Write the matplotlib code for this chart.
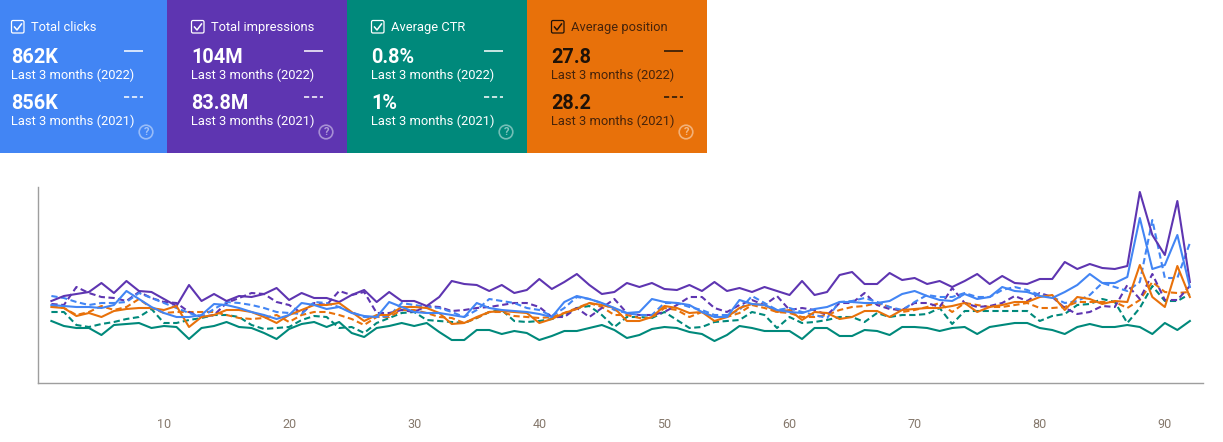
import numpy as np
import matplotlib
matplotlib.use('Agg')
import matplotlib.pyplot as plt
from matplotlib.patches import Rectangle, FancyBboxPatch, Circle

plt.rcParams['font.family'] = ['Roboto', 'DejaVu Sans']

# ---------- DATA ----------
days = list(range(1, 93))
tick_days = [10, 20, 30, 40, 50, 60, 70, 80, 90]

impressions_2022 = [82, 87, 89, 91, 100, 90, 102, 92, 91, 84, 77, 98, 82, 89, 82, 87, 86, 89, 95, 83, 90, 85, 85,
                    81, 88, 93, 81, 91, 82, 82, 77, 86, 102, 99, 98, 92, 98, 90, 93, 104, 94, 101, 109, 98, 89, 91,
                    100, 96, 100, 94, 93, 98, 92, 101, 92, 95, 91, 96, 92, 88, 102, 88, 91, 108, 111, 99, 99, 110, 103,
                    105, 99, 102, 96, 102, 109, 99, 107, 100, 99, 104, 104, 121, 114, 119, 115, 114, 117, 191, 148, 128, 182, 101]
impressions_2021 = [79, 78, 96, 90, 86, 85, 82, 91, 85, 81, 80, 71, 66, 68, 80, 85, 90, 89, 81, 78, 70, 80, 78,
                    92, 88, 91, 70, 70, 73, 71, 77, 76, 72, 73, 75, 76, 78, 80, 80, 76, 66, 66, 75, 66, 75, 84,
                    70, 68, 68, 71, 78, 86, 86, 75, 71, 78, 83, 78, 87, 73, 75, 73, 68, 80, 80, 90, 78, 74, 73,
                    80, 80, 76, 95, 80, 76, 77, 80, 87, 82, 90, 86, 75, 69, 71, 77, 76, 98, 84, 109, 83, 83, 97]
clicks_2022 = [78, 77, 76, 76, 75, 78, 92, 84, 76, 70, 66, 66, 68, 79, 78, 75, 71, 68, 64, 68, 80, 78, 74,
               76, 70, 67, 66, 81, 76, 71, 70, 70, 68, 66, 80, 75, 73, 72, 71, 69, 66, 81, 87, 84, 80, 75,
               70, 71, 84, 81, 80, 78, 71, 66, 66, 83, 79, 78, 73, 71, 70, 74, 76, 81, 81, 80, 80, 82, 89,
               92, 87, 83, 82, 89, 84, 86, 96, 92, 91, 87, 85, 91, 98, 109, 100, 100, 106, 165, 114, 118, 148, 96]
clicks_2021 = [87, 85, 81, 78, 80, 80, 81, 90, 85, 80, 75, 70, 66, 74, 81, 80, 78, 75, 71, 70, 69, 81, 80,
               76, 71, 66, 66, 67, 80, 78, 76, 75, 71, 66, 73, 84, 82, 80, 75, 73, 67, 75, 86, 84, 80, 73,
               70, 68, 68, 80, 80, 76, 73, 68, 68, 73, 87, 80, 73, 75, 71, 68, 65, 81, 82, 85, 81, 76, 73,
               81, 88, 86, 86, 90, 86, 86, 93, 96, 93, 88, 86, 80, 82, 88, 100, 96, 92, 101, 163, 105, 105, 140]
position_2022 = [76, 75, 67, 70, 66, 72, 74, 75, 75, 73, 77, 56, 66, 68, 73, 73, 71, 66, 60, 68, 73, 78, 78,
                 80, 71, 62, 68, 68, 76, 76, 75, 70, 59, 60, 66, 71, 72, 71, 70, 60, 64, 70, 74, 80, 78, 75,
                 62, 62, 66, 77, 75, 70, 71, 62, 66, 75, 79, 78, 71, 73, 63, 71, 70, 64, 66, 72, 72, 66, 73,
                 74, 75, 75, 77, 80, 71, 76, 78, 81, 81, 86, 88, 73, 86, 84, 79, 82, 81, 118, 86, 76, 117, 86]
position_2021 = [77, 75, 68, 71, 77, 73, 76, 84, 75, 70, 71, 71, 71, 71, 68, 65, 64, 65, 68, 61, 68, 71, 71,
                 68, 64, 58, 66, 66, 73, 73, 70, 66, 65, 60, 65, 71, 71, 67, 66, 65, 66, 70, 75, 80, 76, 68,
                 68, 65, 65, 75, 73, 66, 71, 66, 66, 70, 78, 75, 71, 70, 66, 66, 68, 73, 76, 77, 80, 76, 71,
                 73, 76, 80, 71, 80, 78, 76, 76, 78, 80, 75, 75, 76, 81, 81, 81, 81, 75, 83, 101, 91, 90, 91]
ctr_2022 = [62, 57, 55, 55, 48, 58, 59, 60, 55, 57, 56, 44, 55, 57, 61, 56, 55, 50, 44, 54, 59, 61, 56,
            61, 50, 46, 55, 57, 60, 57, 60, 51, 43, 43, 53, 53, 49, 52, 50, 43, 47, 52, 52, 55, 58, 53,
            45, 48, 54, 56, 55, 51, 49, 42, 48, 57, 55, 52, 52, 52, 44, 55, 55, 47, 47, 53, 52, 48, 56,
            56, 55, 52, 55, 56, 49, 56, 58, 60, 60, 55, 53, 49, 56, 59, 56, 56, 58, 56, 49, 60, 53, 62]
ctr_2021 = [71, 71, 58, 56, 59, 61, 64, 66, 74, 60, 60, 63, 65, 68, 68, 66, 58, 54, 55, 56, 63, 67, 66,
            55, 56, 50, 60, 65, 70, 71, 63, 62, 61, 60, 65, 71, 73, 62, 61, 62, 64, 68, 75, 77, 68, 56,
            66, 66, 65, 71, 63, 55, 56, 61, 62, 63, 71, 68, 55, 66, 60, 61, 63, 66, 66, 61, 70, 66, 68,
            68, 69, 75, 59, 72, 72, 72, 72, 72, 72, 62, 67, 69, 78, 79, 84, 81, 60, 75, 97, 82, 82, 89]

tile_titles = ['Total clicks', 'Total impressions', 'Average CTR', 'Average position']
values_2022 = ['862K', '104M', '0.8%', '27.8']
values_2021 = ['856K', '83.8M', '1%', '28.2']
period_2022 = 'Last 3 months (2022)'
period_2021 = 'Last 3 months (2021)'

BLUE = '#4285F4'
PURPLE = '#5E35B1'
GREEN = '#00897B'
ORANGE = '#E8710A'

W, H = 1223, 442
fig = plt.figure(figsize=(W / 100, H / 100), dpi=100, facecolor='white')

# ---------- TILES ----------
top = fig.add_axes([0, 0, 1, 1])
top.set_xlim(0, W)
top.set_ylim(H, 0)
top.axis('off')

tile_x = [0, 167, 347, 527]
tile_w = [167, 180, 180, 180]
tile_pad = [11, 24, 24, 24]
tile_colors = [BLUE, PURPLE, GREEN, ORANGE]

for i in range(4):
    x0 = tile_x[i]
    left = x0 + tile_pad[i]
    fg = 'white' if i < 3 else '#1f1208'
    sub = 'white' if i < 3 else '#46230a'
    top.add_patch(Rectangle((x0, 0), tile_w[i], 153, color=tile_colors[i], lw=0))
    # checkbox
    top.add_patch(FancyBboxPatch((left + 0.5, 20.5), 12.5, 12.5, boxstyle='round,pad=0,rounding_size=1.5',
                                 fc='none', ec=fg, lw=0.9))
    top.plot([left + 3.5, left + 6, left + 10.5], [27, 30, 24], color=fg, lw=1.1)
    top.text(left + 20, 31, tile_titles[i], color=sub, fontsize=9.3, va='baseline', ha='left')
    # 2022 row
    top.text(left, 63, values_2022[i], color=fg, fontsize=14.3, fontweight='bold', va='baseline', ha='left')
    top.text(left, 79, period_2022, color=sub, fontsize=9.3, va='baseline', ha='left')
    top.plot([left + 113, left + 132], [50.5, 50.5], color=fg, lw=1.1, solid_capstyle='butt')
    # 2021 row
    top.text(left, 109, values_2021[i], color=fg, fontsize=14.3, fontweight='bold', va='baseline', ha='left')
    top.text(left, 125, period_2021, color=sub, fontsize=9.3, va='baseline', ha='left')
    top.plot([left + 113, left + 132], [96.5, 96.5], color=fg, lw=1.1, linestyle=(0, (3.4, 1.8)), dash_capstyle='butt')
    # help icon
    top.add_patch(Circle((left + 135, 132), 6.8, fc='none', ec='white', lw=1.2, alpha=0.45))
    top.text(left + 135, 132, '?', color='white', alpha=0.5, fontsize=8, fontweight='bold', va='center', ha='center')

# ---------- CHART ----------
ax_left, ax_right, ax_top, ax_bottom = 38, 1203, 187, 383
ax = fig.add_axes([ax_left / W, 1 - ax_bottom / H, (ax_right - ax_left) / W, (ax_bottom - ax_top) / H])
ax.patch.set_alpha(0)

lw = 1.5
dash = (0, (3.0, 1.7))
ax.plot(days, ctr_2021, color=GREEN, lw=lw, linestyle=dash)
ax.plot(days, position_2021, color=ORANGE, lw=lw, linestyle=dash)
ax.plot(days, impressions_2021, color=PURPLE, lw=lw, linestyle=dash)
ax.plot(days, clicks_2021, color=BLUE, lw=lw, linestyle=dash)
ax.plot(days, ctr_2022, color=GREEN, lw=lw)
ax.plot(days, impressions_2022, color=PURPLE, lw=lw)
ax.plot(days, position_2022, color=ORANGE, lw=lw)
ax.plot(days, clicks_2022, color=BLUE, lw=lw)

ax.set_xlim(-0.07, 93.05)
ax.set_ylim(0, 196)
ax.set_xticks(tick_days)
ax.set_yticks([])
ax.tick_params(axis='x', length=0, pad=25.5, labelsize=9, labelcolor='#85786c')
for side in ['top', 'right']:
    ax.spines[side].set_visible(False)
for side in ['left', 'bottom']:
    ax.spines[side].set_color('#9e9e9e')
    ax.spines[side].set_linewidth(1)

fig.savefig('out.png', dpi=100)
